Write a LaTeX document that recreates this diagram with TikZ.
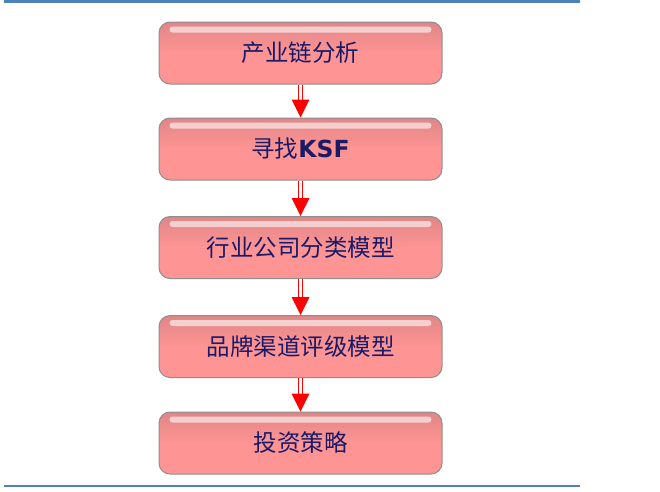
\documentclass[tikz,border=0pt]{standalone}
\usepackage{fontspec}
\setmainfont{Noto Sans CJK SC}
\newfontfamily\latinbold{DejaVu Sans}
\usetikzlibrary{calc}
\definecolor{rulecol}{HTML}{4F81BD}
\definecolor{boxtop}{HTML}{E08686}
\definecolor{boxbot}{HTML}{FF9494}
\definecolor{boxline}{HTML}{8E8E8E}
\definecolor{txtcol}{HTML}{1A1A66}
\tikzset{
  stepbox/.style={rectangle, rounded corners=11pt, minimum width=283pt, minimum height=62pt,
    draw=boxline, line width=1pt, top color=boxtop, bottom color=boxbot, middle color=boxbot,
    text=txtcol, font=\fontsize{23.5pt}{26pt}\selectfont, inner sep=0pt},
  shaft/.style={draw=red, line width=0.9pt, double=white, double distance=2.4pt},
  rulel/.style={draw=rulecol, line width=2.4pt},
}
\newcommand\gloss[1]{%
  \fill[white, opacity=0.6, rounded corners=3pt]
    ([xshift=11pt,yshift=-5pt]#1.north west) rectangle ([xshift=-11pt,yshift=-11pt]#1.north east);}
\newcommand\dblarrow[2]{%
  \draw[shaft] (#1.south) -- ($(#2.north)+(0,-17)$);
  \fill[red] ($(#2.north)+(-9,-18)$) -- ($(#2.north)+(9,-18)$) -- (#2.north) -- cycle;}
\begin{document}
\begin{tikzpicture}[x=1pt,y=-1pt]
\useasboundingbox (0,0) rectangle (660,491);
\fill[white] (0,0) rectangle (660,491);
\draw[rulel] (4,1.5) -- (580,1.5);
\draw[rulel] (4,486) -- (580,486);
\node[stepbox] (b1) at (300.5,53) {产业链分析};
\node[stepbox] (b2) at (300.5,149) {寻找{\latinbold\bfseries KSF}};
\node[stepbox] (b3) at (300.5,247.5) {行业公司分类模型};
\node[stepbox] (b4) at (300.5,346.5) {品牌渠道评级模型};
\node[stepbox] (b5) at (300.5,443) {投资策略};
\foreach \b in {b1,b2,b3,b4,b5}{\gloss{\b}}
\dblarrow{b1}{b2}
\dblarrow{b2}{b3}
\dblarrow{b3}{b4}
\dblarrow{b4}{b5}
\end{tikzpicture}
\end{document}
